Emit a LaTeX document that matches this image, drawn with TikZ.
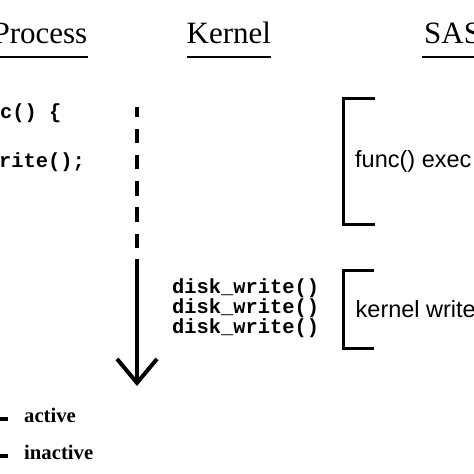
\documentclass[tikz,border=0pt]{standalone}
\usepackage{fontspec}
\setmainfont{Liberation Serif}
\setsansfont{Liberation Sans}
\setmonofont{Liberation Mono}
\usetikzlibrary{arrows.meta, positioning}

\tikzset{
  heading/.style={inner sep=0pt, font=\fontsize{31}{31}\selectfont},
  code/.style={inner sep=0pt, font=\fontsize{20.4}{20.4}\selectfont\ttfamily\bfseries},
  note/.style={inner sep=0pt, font=\fontsize{23.5}{23.5}\selectfont\sffamily},
  legend/.style={inner sep=0pt, font=\fontsize{20.7}{20.7}\selectfont\bfseries},
  headline/.style={line width=1.5pt},
  bracket/.style={line width=3pt},
  inactive/.style={line width=4pt, dash pattern=on 14.5pt off 11.75pt},
  active/.style={line width=4pt},
}

\begin{document}
\begin{tikzpicture}[x=1pt, y=-1pt]
    \useasboundingbox (0,0) rectangle (474,474);
    \clip (0,0) rectangle (474,474);

    % column headings
    \node[heading, anchor=base east] (proc) at (87.5,43) {Process};
    \node[heading, anchor=base west] (kern) at (186.5,43) {Kernel};
    \node[heading, anchor=base west] (sas) at (424,43) {SAS};
    \draw[headline] ([yshift=-14pt]proc.base west) -- ([yshift=-14pt]proc.base east);
    \draw[headline] ([yshift=-14pt]kern.base west) -- ([yshift=-14pt]kern.base east);
    \draw[headline] ([yshift=-14pt, xshift=-2pt]sas.base west) -- ([yshift=-14pt, xshift=60pt]sas.base west);

    % process code
    \node[code, anchor=base west] (fn) at (0,118) {c() \{};
    \node[code, anchor=base west] (call) at (-1,167) {rite();};

    % kernel time line
    \coordinate (dtop) at (137,107);
    \coordinate (dbot) at (137,248);
    \coordinate (stop) at (137,259);
    \coordinate (tip) at (137,386);
    \draw[inactive] (dbot) -- (dtop);
    \draw[active, -{Straight Barb[length=24pt, width=40pt]}] (stop) -- (tip);

    \node[code, anchor=base west] (w1) at (172,293) {disk\_write()};
    \node[code, anchor=base west] (w2) at (172,313) {disk\_write()};
    \node[code, anchor=base west] (w3) at (172,333) {disk\_write()};

    % SAS side
    \draw[bracket] (375,98) -- (343,98) -- (343,224) -- (375,224);
    \draw[bracket] (374,270) -- (343,270) -- (343,348) -- (374,348);
    \node[note, anchor=base west] (exec) at (355,167) {func() exec};
    \node[note, anchor=base west] (kw) at (355.5,317) {kernel write};

    % legend
    \node[legend, anchor=base west] (act) at (24,422) {active};
    \node[legend, anchor=base west] (inact) at (24,459) {inactive};
    \draw[active] (7.5,418.5) -- (-15,418.5);
    \draw[inactive] (7.5,455.5) -- (-15,455.5);
\end{tikzpicture}
\end{document}
